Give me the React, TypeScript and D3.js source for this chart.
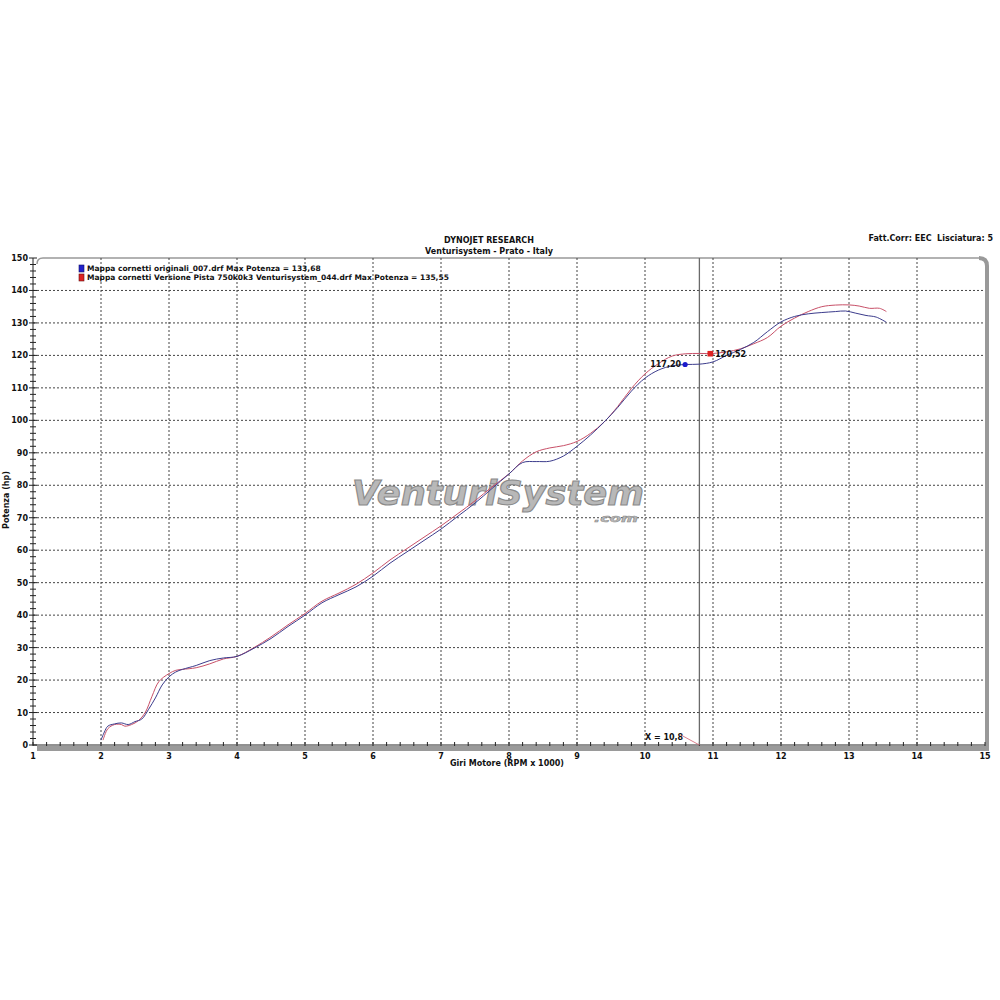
import React from "react";
import * as d3 from "d3";

const titleLines = ["DYNOJET RESEARCH", "Venturisystem - Prato - Italy"];
const cornerNote = "Fatt.Corr: EEC  Lisciatura: 5";
const xTicks = [1, 2, 3, 4, 5, 6, 7, 8, 9, 10, 11, 12, 13, 14, 15];
const yTicks = [0, 10, 20, 30, 40, 50, 60, 70, 80, 90, 100, 110, 120, 130, 140, 150];
const xLabel = "Giri Motore (RPM x 1000)";
const yLabel = "Potenza (hp)";

const seriesNames = [
  "Mappa cornetti originali_007.drf Max Potenza = 133,68",
  "Mappa cornetti Versione Pista 750k0k3 Venturisystem_044.drf Max Potenza = 135,55",
];

const blueRpm = [2.0, 2.05, 2.1, 2.2, 2.3, 2.4, 2.5, 2.6, 2.7, 2.8, 2.9, 3.0, 3.1, 3.2, 3.4, 3.6, 3.8, 4.0, 4.25, 4.5, 4.75, 5.0, 5.25, 5.5, 5.75, 6.0, 6.25, 6.5, 6.75, 7.0, 7.25, 7.5, 7.75, 8.0, 8.2, 8.4, 8.6, 8.8, 9.0, 9.2, 9.4, 9.6, 9.8, 10.0, 10.2, 10.4, 10.6, 10.8, 11.0, 11.2, 11.4, 11.6, 11.8, 12.0, 12.2, 12.4, 12.6, 12.8, 12.95, 13.1, 13.25, 13.4, 13.55];
const blueHp = [1.5, 4, 5.8, 6.5, 6.8, 6.3, 7.2, 8.0, 11, 14.5, 18.5, 21, 22.5, 23.3, 24.5, 26, 26.8, 27.3, 29.8, 32.8, 36.5, 40, 43.8, 46.3, 48.7, 52, 56, 59.5, 63, 66.5, 70.5, 74.5, 79, 83.5, 87, 87.3, 87.4, 89, 92, 95.5, 99.5, 104, 109, 113, 115.5, 116.8, 117.2, 117.3, 118, 120, 121.8, 124, 127.3, 130.3, 132, 132.8, 133.2, 133.5, 133.68, 133, 132.3, 131.8, 130.2];

const redRpm = [2.03, 2.1, 2.2, 2.3, 2.35, 2.45, 2.55, 2.65, 2.75, 2.85, 3.0, 3.1, 3.2, 3.4, 3.6, 3.8, 4.0, 4.25, 4.5, 4.75, 5.0, 5.25, 5.5, 5.75, 6.0, 6.25, 6.5, 6.75, 7.0, 7.25, 7.5, 7.75, 8.0, 8.2, 8.4, 8.6, 8.8, 9.0, 9.2, 9.4, 9.6, 9.8, 10.0, 10.2, 10.4, 10.6, 10.8, 11.0, 11.2, 11.4, 11.6, 11.8, 12.0, 12.2, 12.4, 12.6, 12.8, 13.0, 13.15, 13.3, 13.45, 13.55];
const redHp = [1.5, 5, 6.3, 6.3, 5.8, 6.3, 7.5, 10, 15, 19.5, 22, 23, 23.3, 23.8, 25, 26.5, 27.3, 30, 33.3, 37, 40.5, 44.3, 46.8, 49.5, 53, 57, 60.5, 64, 67.5, 71.3, 75.2, 79.5, 83.5, 87.5, 90.3, 91.5, 92.2, 93.5, 96, 99.5, 104.3, 109.8, 114.3, 117.5, 119.8, 120.5, 120.6, 120.6, 121.1, 122, 123.6, 125.5, 129, 131.5, 133.5, 135, 135.5, 135.55, 135.2, 134.5, 134.5, 133.5];

const cursorX = 10.8;
const cursorText = "X = 10,8";
const markerRpm = [10.59, 10.96];
const markerHp = [117.2, 120.52];
const markerText = ["117,20", "120,52"];

const watermarkMain = "VenturiSystem";
const watermarkSub = ".com";

const FONT = "'DejaVu Sans', Verdana, sans-serif";

export default function App() {
  const x = d3.scaleLinear().domain([1, 15]).range([33, 985]);
  const y = d3.scaleLinear().domain([0, 150]).range([745, 258]);
  const line = d3
    .line<[number, number]>()
    .x((d) => x(d[0]))
    .y((d) => y(d[1]))
    .curve(d3.curveCatmullRom.alpha(0.5));

  const blue = blueRpm.map((r, i) => [r, blueHp[i]] as [number, number]);
  const red = redRpm.map((r, i) => [r, redHp[i]] as [number, number]);

  const x0 = x(1), x1 = x(15), yTop = y(150), yBot = y(0);
  const xMinor = d3.range(1, 15.0001, 0.2);
  const yMinor = d3.range(0, 150.0001, 2);

  return (
    <svg width={1000} height={1000} style={{ position: "absolute", left: 0, top: 0, background: "#fff" }} fontFamily={FONT}>
      <rect x={0} y={0} width={1000} height={1000} fill="#fff" />
      {/* titles */}
      <text x={489} y={243} textAnchor="middle" fontSize={8} fontWeight="bold" fill="#111">{titleLines[0]}</text>
      <text x={489} y={254} textAnchor="middle" fontSize={8} fontWeight="bold" fill="#111">{titleLines[1]}</text>
      <text x={993} y={241} textAnchor="end" fontSize={8} fontWeight="bold" fill="#111" style={{ whiteSpace: "pre" }}>{cornerNote}</text>

      {/* frame shadow right & bottom */}
      <path d={`M${x1 - 6},${yTop} Q${x1 + 2},${yTop} ${x1 + 2},${yTop + 8} L${x1 + 2},${yBot + 4}`} fill="none" stroke="#999" strokeWidth={4} />
      <path d={`M${x0 + 4},${yTop + 6} Q${x0 + 4},${yTop} ${x0 + 10},${yTop} L${x1 - 6},${yTop}`} fill="none" stroke="#999" strokeWidth={1.5} />
      <rect x={x0 + 4} y={yBot + 1} width={x1 - x0} height={5} fill="#9a9a9a" />

      {/* grid */}
      {xTicks.slice(1, -1).map((t) => (
        <line key={"gx" + t} x1={x(t)} x2={x(t)} y1={yTop} y2={yBot} stroke="#444" strokeWidth={1} strokeDasharray="2,2" />
      ))}
      {yTicks.slice(1, -1).map((t) => (
        <line key={"gy" + t} x1={x0} x2={x1} y1={y(t)} y2={y(t)} stroke="#444" strokeWidth={1} strokeDasharray="2,2" />
      ))}

      {/* axes */}
      <line x1={x0} x2={x0} y1={yTop} y2={yBot} stroke="#222" strokeWidth={1} />
      <line x1={x0} x2={x1} y1={yBot} y2={yBot} stroke="#222" strokeWidth={1} />
      {yMinor.map((t) => {
        const major = Math.abs(t % 10) < 1e-6;
        return <line key={"ym" + t} x1={x0 - (major ? 4 : 3)} x2={x0 + (major ? 4 : 3)} y1={y(t)} y2={y(t)} stroke="#222" strokeWidth={1} />;
      })}
      {xMinor.map((t) => (
        <line key={"xm" + t} x1={x(t)} x2={x(t)} y1={yBot - 3} y2={yBot + 1} stroke="#222" strokeWidth={1} />
      ))}
      {yTicks.map((t) => (
        <text key={"yl" + t} x={28} y={y(t) + 3} textAnchor="end" fontSize={8} fontWeight="bold" fill="#111">{t}</text>
      ))}
      {xTicks.map((t) => (
        <text key={"xl" + t} x={x(t)} y={759} textAnchor="middle" fontSize={8} fontWeight="bold" fill="#111">{t}</text>
      ))}
      <text x={507} y={766} textAnchor="middle" fontSize={8} fontWeight="bold" fill="#111">{xLabel}</text>
      <text transform={`translate(9,500) rotate(-90)`} textAnchor="middle" fontSize={8} fontWeight="bold" fill="#111">{yLabel}</text>

      {/* watermark */}
      <text x={352} y={505} fontSize={34} fontWeight="bold" fontStyle="italic" fill="#b8b8b8" stroke="#8a8a8a" strokeWidth={1.1} textLength={292} lengthAdjust="spacingAndGlyphs">{watermarkMain}</text>
      <text x={594} y={522} fontSize={11} fontWeight="bold" fontStyle="italic" fill="#b8b8b8" stroke="#8a8a8a" strokeWidth={0.5} textLength={44} lengthAdjust="spacingAndGlyphs">{watermarkSub}</text>

      {/* legend */}
      <rect x={79} y={265} width={5} height={7} fill="#2222cc" stroke="#111166" strokeWidth={0.6} />
      <rect x={79} y={274} width={5} height={7} fill="#dd2222" stroke="#661111" strokeWidth={0.6} />
      <text x={87} y={271} fontSize={7.5} fontWeight="bold" fill="#111">{seriesNames[0]}</text>
      <text x={87} y={280} fontSize={7.5} fontWeight="bold" fill="#111">{seriesNames[1]}</text>

      {/* cursor */}
      <line x1={x(cursorX)} x2={x(cursorX)} y1={yTop} y2={yBot} stroke="#6a6a6a" strokeWidth={1.3} />
      <text x={645} y={740} fontSize={8} fontWeight="bold" fill="#111">{cursorText}</text>
      <line x1={681} y1={735} x2={x(cursorX)} y2={yBot} stroke="#d06070" strokeWidth={0.8} />

      {/* curves */}
      <path d={line(red) || ""} fill="none" stroke="#c85068" strokeWidth={1} />
      <path d={line(blue) || ""} fill="none" stroke="#3c3c8c" strokeWidth={1} />

      {/* markers */}
      <circle cx={x(markerRpm[0])} cy={y(markerHp[0])} r={2.6} fill="#1a1acc" />
      <rect x={x(markerRpm[1]) - 2.8} y={y(markerHp[1]) - 2.8} width={5.6} height={5.6} fill="#dd2222" />
      <text x={x(markerRpm[0]) - 4} y={y(markerHp[0]) + 3} textAnchor="end" fontSize={8} fontWeight="bold" fill="#111">{markerText[0]}</text>
      <text x={x(markerRpm[1]) + 5} y={y(markerHp[1]) + 3} fontSize={8} fontWeight="bold" fill="#111">{markerText[1]}</text>
    </svg>
  );
}
